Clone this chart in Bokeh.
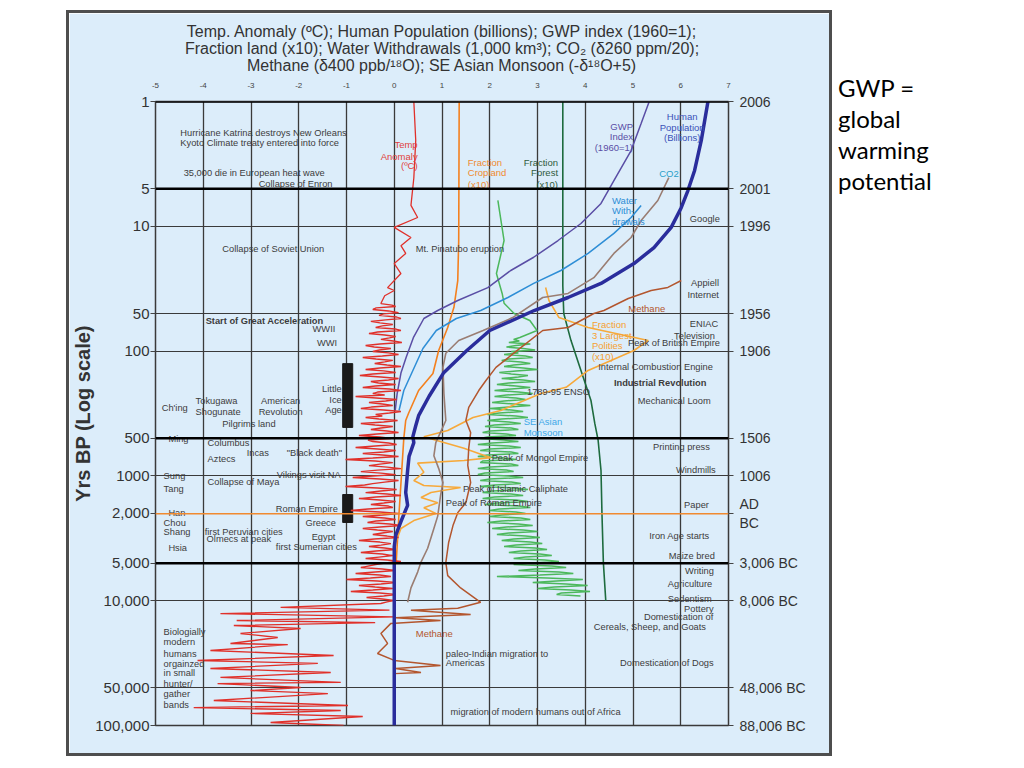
from bokeh.plotting import figure
from bokeh.models import (Range1d, FixedTicker, LogAxis, Title, Span, ColumnDataSource,
                          Div, Spacer)
from bokeh.layouts import row, column
from bokeh.core.properties import value
from bokeh.embed import file_html
from bokeh.resources import INLINE

FONT = "Liberation Sans"
BG = "#dcedfa"
EDGE = "#4e4e4e"

# ---------------- data (years before present, x in anomaly units) ----------------
TEMP_YEARS = [1, 2.05, 4.1, 6.8, 8.5, 10.2, 12.3, 14.3, 16.5, 19.9, 23.9, 31, 32.7, 36,
              41.6, 42.8, 43.9, 45.1, 46.4, 47.7, 49.1, 50.4, 51.8, 53.3, 54.8, 56.3, 57.9,
              59.5, 61.2, 62.9, 64.7, 66.5, 68.4, 70.3, 72.3, 74.3, 76.4, 78.5, 80.7, 83.0,
              85.3, 87.7, 90.2, 92.7, 95.3, 98.0, 100.7, 103.5, 106.5, 109.5, 112.5, 115.7,
              118.9, 122.2, 125.7, 129.2, 132.9, 136.6, 140.4, 144.3, 148.4, 152.6, 156.9,
              161.3, 165.8, 170.4, 175.2, 180.1, 185.2, 190.4, 195.7, 201.2, 206.9, 212.7,
              218.7, 224.8, 231.1, 237.6, 244.3, 251.1, 258.2, 265.4, 272.9, 280.6, 288.4,
              296.5, 304.8, 313.4, 322.2, 331.2, 340.5, 350.0, 359.9, 370.0, 380.4, 391.0,
              402.0, 413.3, 424.9, 436.8, 449.1, 461.7, 474.7, 488.0, 501.7, 515.8, 530.3,
              545.1, 560.4, 576.1, 592.3, 608.9, 626.1, 643.6, 661.7, 680.2, 699.4, 719.0,
              739.2, 759.9, 781.3, 803.2, 825.8, 849.0, 872.8, 897.3, 922.5, 948.4, 975.0,
              1002, 1030, 1059, 1089, 1120, 1151, 1183, 1216, 1250, 1285, 1321, 1359, 1397,
              1436, 1476, 1518, 1560, 1604, 1649, 1695, 1743, 1792, 1842, 1894, 1947, 2001,
              2057, 2115, 2174, 2236, 2298, 2363, 2429, 2497, 2567, 2640, 2714, 2790, 2868,
              2949, 3032, 3117, 3204, 3294, 3387, 3482, 3580, 3680, 3783, 3889, 3998, 4111,
              4226, 4345, 4467, 4592, 4721, 4853, 4989, 5129, 5273, 5421, 5573, 5729, 5890,
              6056, 6226, 6400, 6580, 6765, 6955, 7150, 7351, 7556, 7769, 7986, 8210, 8441,
              8678, 8921, 9171, 9428, 9693, 9964, 10240, 10530,
              11330, 11900, 12670, 13500, 14410, 15000, 15800, 16700, 18320, 19720, 22030,
              22500, 25060, 27480, 30140, 31840, 34930, 37610, 41220, 45200, 46100, 49600,
              52440, 55460, 63040, 69150, 71800, 75810, 80100, 84700, 94600, 100000]
TEMP_ANOM = [0.41, 0.45, 0.41, 0.35, 0.49, 0.0, 0.35, 0.14, 0.24, 0.0, 0.14, -0.14, 0.0, -0.2,
             -0.28, -0.05, 0.03, -0.38, -0.45, -0.12, 0.09, -0.22, -0.32, 0.05, 0.14, -0.18,
             -0.49, -0.30, -0.03, -0.25, -0.39, 0.02, 0.14, -0.35, -0.53, -0.20, 0.03, -0.10,
             -0.28, -0.02, 0.16, -0.30, -0.60, -0.42, -0.07, -0.31, -0.45, -0.12, 0.09, -0.25,
             -0.66, -0.38, -0.03, -0.20, -0.41, -0.15, 0.14, -0.30, -0.60, -0.22, 0.03, -0.45,
             -0.72, -0.28, 0.09, -0.12, -0.49, -0.33, 0.03, -0.40, -0.66, -0.10, 0.14, -0.35,
             -0.45, -0.20, -0.81, -0.38, 0.05, -0.18, -0.53, -0.25, -0.03, -0.48, -0.70,
             -0.22, 0.14, -0.10, -0.39, -0.25, -0.60, -0.32, 0.07, -0.22, -0.70, -0.40,
             -0.03, -0.28, -0.49, -0.15, 0.09, -0.36, -0.74, -0.30, -0.07, -0.55, -0.45,
             -0.12, 0.05, -0.40, -0.81, -0.35, 0.03, -0.22, -0.66, -0.25, 0.09, -0.45,
             -1.02, -0.40, -0.03, -0.30, -0.53, -0.15, 0.14, -0.35, -0.70, -0.28, 0.03,
             -0.45, -0.87, -0.30, 0.09, -0.20, -0.45, -0.62, -1.02, -0.35, 0.05, -0.28, -0.60,
             -0.15, 0.14, -0.38, -0.74, -0.30, 0.03, -0.22, -0.49, -0.12, -0.03, -0.55, -0.91,
             -0.30, 0.09, -0.25, -0.66, -0.20, 0.03, -0.38, -0.56, -0.10, 0.14, -0.30, -0.66,
             -0.35, -0.03, -0.25, -0.45, -0.15, 0.09, -0.42, -0.74, -0.30, -0.07, -0.28,
             -0.53, -0.20, 0.03, -0.38, -0.70, -0.25, -0.03, -0.32, -0.60, -0.15, 0.14, -0.20,
             -0.39, -0.55, -0.70, -0.25, 0.03, -0.40, -0.81, -0.30, -0.07, -0.50, -1.00,
             -0.35, 0.03, -0.28, -0.74, -0.40, -0.03, -0.45, -0.91, -0.30, 0.03, -0.22,
             -0.58, -0.25, -0.01, -0.15, -0.28,
             -2.38, -0.1, -3.64, 0.0, -3.3, -0.4, -3.36, -1.96, -3.22, -2.44, -3.43,
             -2.23, -3.85, -1.27, -4.12, -1.60, -3.85, -1.33, -3.64, -1.12, -3.70, -1.96,
             -3.01, -1.39, -3.78, -0.97, -4.20, -1.12, -3.01, -0.66, -2.59, -1.06]

POP_YEARS = [1, 2.05, 3.57, 5.17, 7.1, 10.2, 14.8, 19.9, 28.7, 37.2, 47.3, 68.4, 98.9,
             150, 230, 329, 396, 485, 541, 698, 905, 1360, 1720, 2320, 3000, 3700, 100000]
POP_BILLIONS = [6.57, 6.43, 6.29, 6.15, 6.01, 5.80, 5.44, 5.02, 4.33, 3.64, 2.93, 2.0, 1.52,
                1.03, 0.73, 0.51, 0.45, 0.39, 0.41, 0.31, 0.28, 0.24, 0.28, 0.14, 0.03, 0.0, 0.0]

GWP_YEARS = [1, 1.5, 2.47, 4.3, 6.56, 9.5, 13, 17.7, 22.6, 31, 39.3, 47.3, 54.8, 78, 112, 150, 220, 300]
GWP_INDEX = [5.34, 5.17, 4.96, 4.60, 4.33, 3.91, 3.43, 2.92, 2.44, 1.96, 1.33, 0.91, 0.62, 0.40,
             0.25, 0.14, 0.06, 0.02]

WATER_YEARS = [6.8, 8.5, 11.4, 16.5, 22.6, 28.7, 37.2, 47.3, 54.8, 68.4, 95.3, 143, 207, 299]
WATER_KM3 = [5.17, 4.96, 4.60, 4.06, 3.49, 2.92, 2.38, 1.81, 1.30, 0.88, 0.60, 0.39, 0.20, 0.10]

CO2_YEARS = [4.07, 6.21, 8.99, 12.3, 16.5, 25.8, 34.5, 37.2, 53.9, 68.4, 82.2, 104, 135, 219,
             360, 541, 690, 870, 1130, 1436, 2100, 2640, 3800, 4900, 5900, 7900, 10300]
CO2_INDEX = [5.75, 5.52, 5.17, 4.96, 4.60, 4.18, 3.64, 3.11, 2.48, 1.86, 1.35, 1.08, 1.02, 1.04,
             1.08, 0.87, 0.83, 0.93, 1.02, 0.97, 0.91, 0.83, 0.70, 0.56, 0.49, 0.35, 0.28]

METH_YEARS = [27.2, 30.9, 32.7, 37.9, 47.3, 50, 64.7, 68.4, 93.7, 135, 172, 207, 282, 360, 450,
              600, 825, 1130, 1640, 1970, 2500, 3400, 4960, 6300, 7900, 10300, 11500, 11900,
              12900, 13700, 14400, 15200, 18300, 22000, 26500, 30100, 33000, 34900, 37600, 38400]
METH_INDEX = [6.01, 5.73, 5.38, 4.90, 4.39, 4.18, 3.64, 3.11, 2.65, 2.13, 1.92, 1.77, 1.56, 1.50,
              1.60, 1.56, 1.54, 1.60, 1.50, 1.33, 1.23, 1.14, 1.08, 1.12, 1.39, 1.81, 1.33, 0.35,
              1.60, 0.03, 0.97, -0.07, -0.28, -0.14, -0.35, 0.0, 0.97, 0.03, 0.56, 0.0]

CROP_YEARS = [1, 13, 27.2, 44.6, 64.7, 98.9, 151, 207, 315, 360, 500, 1000, 2000, 5000]
CROP_FRAC = [1.36, 1.35, 1.33, 1.25, 1.12, 0.93, 0.81, 0.51, 0.30, 0.24, 0.20, 0.15, 0.10, 0.04]

FOREST_YEARS = [1, 30, 50, 82, 143, 249, 380, 520, 905, 2000, 5000, 10000]
FOREST_FRAC = [3.53, 3.53, 3.55, 3.70, 3.91, 4.12, 4.20, 4.27, 4.33, 4.35, 4.38, 4.43]

POLITY_YEARS = [30.9, 39.3, 53.9, 64.7, 82.2, 98.9, 143, 195, 219, 299, 340, 433, 485, 600, 714,
                753, 790, 935, 1090, 1195, 1240, 1360, 1490, 1640, 1800, 2000, 2280, 2640, 3430, 4360]
POLITY_FRAC = [3.17, 3.24, 3.45, 4.06, 5.32, 5.02, 4.06, 3.60, 3.07, 2.23, 1.65, 1.12, 0.62, 1.46,
               2.02, 1.46, 0.49, 0.62, 0.41, 0.62, 1.39, 0.77, 0.56, 0.91, 0.62, 0.87, 0.41, 0.14,
               0.03, 0.0]

MONSOON_YEARS = [6.2, 13, 23.9, 34.5, 41.3, 50, 56.9, 68.4, 77.8,
                 80.7, 83.0, 85.3, 87.7, 90.2, 92.7, 95.3, 98.0, 100.7, 103.5, 106.5, 109.5,
                 112.5, 115.7, 118.9, 122.2, 125.7, 129.2, 132.9, 136.6, 140.4, 144.3, 148.4,
                 152.6, 156.9, 161.3, 165.8, 170.4, 175.2, 180.1, 185.2, 190.4, 195.7, 201.2,
                 206.9, 212.7, 218.7, 224.8, 231.1, 237.6, 244.3, 251.1, 258.2, 265.4, 272.9,
                 280.6, 288.4, 296.5, 304.8, 313.4, 322.2, 331.2, 340.5, 350.0, 359.9, 370.0,
                 380.4, 391.0, 402.0, 413.3, 424.9, 436.8, 449.1, 461.7, 474.7, 488.0, 501.7,
                 515.8, 530.3, 545.1, 560.4, 576.1, 592.3, 608.9, 626.1, 643.6, 661.7, 680.2,
                 699.4, 719.0, 739.2, 759.9, 781.3, 803.2, 825.8, 849.0, 872.8, 897.3, 922.5,
                 948.4, 975.0, 1002, 1030, 1059, 1089, 1120, 1151, 1183, 1216, 1250, 1285,
                 1321, 1359, 1397, 1436, 1476, 1518, 1560, 1604, 1649, 1695, 1743, 1792, 1842,
                 1894, 1947, 2001, 2057, 2115, 2174, 2236, 2298, 2363, 2429, 2497, 2567, 2640,
                 2714, 2790, 2868, 2949, 3032, 3117, 3204, 3294, 3387, 3482, 3580, 3680, 3783,
                 3889, 3998, 4111, 4226, 4345, 4467, 4592, 4721, 4853, 4989, 5129, 5273, 5421,
                 5573, 5729, 5890, 6056, 6226, 6400, 6580, 6765, 6955, 7150, 7351, 7556, 7769,
                 7986, 8210, 8441, 8678, 8921, 9171]
MONSOON_D18O = [2.17, 2.30, 2.14, 2.26, 2.30, 2.51, 2.84, 2.99, 2.63,
                2.50, 2.62, 2.40, 2.85, 2.55, 2.35, 2.70, 2.95, 2.45, 2.60, 2.30, 2.75,
                2.90, 2.40, 2.25, 2.65, 2.85, 2.50, 2.30, 2.70, 3.00, 2.55, 2.20,
                2.45, 2.80, 2.60, 2.25, 2.70, 2.95, 2.40, 2.15, 2.55, 2.85, 2.45,
                2.10, 2.60, 2.90, 2.35, 2.10, 2.55, 2.75, 2.30, 2.05, 2.50, 2.85,
                2.40, 2.00, 2.45, 2.70, 2.20, 1.95, 2.55, 2.80, 2.25, 1.95, 2.40,
                2.65, 2.10, 1.90, 2.45, 2.60, 2.00, 1.85, 2.35, 2.55, 1.95, 1.80,
                2.30, 2.60, 2.05, 1.75, 2.40, 2.65, 2.00, 1.80, 2.45, 2.60, 1.95,
                1.75, 2.30, 2.55, 1.85, 1.80, 2.45, 2.60, 2.00, 1.75, 2.35, 2.50,
                1.90, 1.75, 2.40, 2.70, 2.00, 1.80, 2.45, 2.65, 2.10, 1.80, 2.50, 2.80,
                2.05, 1.85, 2.45, 2.70, 2.10, 1.85, 2.55, 2.80, 2.15, 1.90, 2.60, 2.85, 2.20,
                2.00, 2.55, 2.75, 2.25, 2.00, 2.65, 2.85, 2.25, 1.95, 2.60, 2.90, 2.35, 2.05,
                2.70, 3.00, 2.40, 2.15, 2.75, 3.05, 2.50, 2.25, 2.85, 3.10, 2.55, 2.30, 2.95,
                3.20, 2.65, 2.40, 3.05, 3.30, 2.75, 2.50, 3.15, 3.45, 2.85, 2.50, 3.30, 3.60,
                2.95, 2.60, 3.45, 3.75, 3.05, 2.15, 3.20, 3.95, 3.40, 2.90, 3.60, 4.05, 3.35,
                3.00, 3.70, 4.10, 3.50, 3.40, 3.90]

# time bands drawn as black bars (Little Ice Age, Roman warm period)
BAR_TOP = [126, 1410]
BAR_BOTTOM = [409, 2361]

LEFT_TICKS = [1, 5, 10, 50, 100, 500, 1000, 2000, 5000, 10000, 50000, 100000]
LEFT_LABELS = ["1", "5", "10", "50", "100", "500", "1000", "2,000", "5,000", "10,000",
               "50,000", "100,000"]
RIGHT_TICKS = [1, 5, 10, 50, 100, 500, 1000, 2000, 5000, 10000, 50000, 100000]
RIGHT_LABELS = ["2006", "2001", "1996", "1956", "1906", "1506", "1006", "AD\nBC", "3,006 BC",
                "8,006 BC", "48,006 BC", "88,006 BC"]
TOP_TICKS = list(range(-5, 8))
TOP_LABELS = ["-5", "-4", "-3", "-2", "-1", "0", "1", "2", "3", "4", "5", "6", "7"]

TITLE_LINES = ["Temp. Anomaly (ºC); Human Population (billions); GWP index (1960=1);",
               "Fraction land (x10); Water Withdrawals (1,000 km³); CO₂ (δ260 ppm/20);",
               "Methane (δ400 ppb/¹⁸O); SE Asian Monsoon (-δ¹⁸O+5)"]
SIDE_NOTE = ["GWP =", "global", "warming", "potential"]

# historical events: text, x position, years BP
EVENTS = [
    ("Hurricane Katrina destroys New Orleans", -4.48, 1.80),
    ("Kyoto Climate treaty entered into force", -4.48, 2.17),
    ("35,000 die in European heat wave", -4.41, 3.71),
    ("Collapse of Enron", -2.84, 4.54),
    ("Collapse of Soviet Union", -3.60, 15.3),
    ("Mt. Pinatubo eruption", 0.45, 15.1),
    ("Google", 6.19, 8.82),
    ("ENIAC", 6.19, 61.2),
    ("Television", 5.86, 75.0),
    ("Internal Combustion Engine", 4.27, 135.3),
    ("Mechanical Loom", 5.10, 249),
    ("1789-95 ENSO", 2.78, 214.6),
    ("Printing press", 5.42, 581.5),
    ("Peak of Mongol Empire", 2.04, 712.3),
    ("Windmills", 5.90, 888.7),
    ("WWII", -1.71, 67.1),
    ("WWI", -1.62, 86.9),
    ("Ch'ing", -4.87, 283.1),
    ("Tokugawa", -4.16, 253.4),
    ("Shogunate", -4.16, 304.8),
    ("Pilgrims land", -3.60, 387.3),
    ("Ming", -4.73, 501.7),
    ("Columbus", -3.91, 540.2),
    ("Incas", -3.09, 649.4),
    ("\"Black death\"", -2.25, 649.4),
    ("Aztecs", -3.91, 725.6),
    ("Sung", -4.83, 992.7),
    ("Vikings visit NA", -2.46, 975.0),
    ("Collapse of Maya", -3.91, 1129),
    ("Tang", -4.83, 1262),
    ("Roman Empire", -2.48, 1825),
    ("Han", -4.73, 2001),
    ("Chou", -4.83, 2363),
    ("Shang", -4.83, 2841),
    ("Greece", -1.86, 2363),
    ("first Peruvian cities", -3.97, 2841),
    ("Olmecs at peak", -3.93, 3233),
    ("Egypt", -1.73, 3059),
    ("first Sumerian cities", -2.48, 3680),
    ("Hsia", -4.73, 3817),
    ("Peak of Islamic Caliphate", 1.44, 1262),
    ("Peak of Roman Empire", 1.08, 1664),
    ("Paper", 6.07, 1695),
    ("Iron Age starts", 5.34, 3004),
    ("Maize bred", 5.75, 4345),
    ("Writing", 6.09, 5834),
    ("Agriculture", 5.73, 7282),
    ("Sedentism", 5.73, 9603),
    ("Pottery", 6.07, 11550),
    ("Domestication of", 5.23, 13630),
    ("Cereals, Sheep, and Goats", 4.18, 16100),
    ("paleo-Indian migration to", 1.08, 26490),
    ("Americas", 1.08, 31280),
    ("Domestication of Dogs", 4.73, 31280),
    ("migration of modern humans out of Africa", 1.18, 78660),
    ("Biologially", -4.83, 17980),
    ("modern", -4.83, 21620),
    ("humans", -4.83, 26490),
    ("orgainzed", -4.83, 31870),
    ("in small", -4.83, 38310),
    ("hunter/", -4.83, 46080),
    ("gather", -4.83, 55420),
    ("bands", -4.83, 67880),
]
BOLD_EVENTS = [("Start of Great Acceleration", -3.95, 56.9),
               ("Industrial Revolution", 4.60, 181.8)]
RIGHT_EVENTS = [("Little", -1.10, 199.4), ("Ice", -1.10, 244.3), ("Age", -1.10, 293.8),
                ("Appiell", 6.80, 28.7), ("Internet", 6.80, 35.2),
                ("Peak of British Empire", 6.82, 86.9)]
CENTER_EVENTS = [("American", -2.38, 253.4), ("Revolution", -2.38, 304.8)]

# series captions: text, x, years, colour, alignment
CAPTIONS = [
    ("Temp", 0.49, 2.21, "#e0403a", "right"), ("Anomaly", 0.49, 2.76, "#e0403a", "right"),
    ("(ºC)", 0.49, 3.26, "#e0403a", "right"),
    ("Fraction", 1.54, 3.08, "#f08a30", "left"), ("Cropland", 1.54, 3.71, "#f08a30", "left"),
    ("(x10)", 1.54, 4.63, "#f08a30", "left"),
    ("Fraction", 3.43, 3.08, "#2f5a3c", "right"), ("Forest", 3.43, 3.71, "#2f5a3c", "right"),
    ("(x10)", 3.43, 4.63, "#2f5a3c", "right"),
    ("GWP", 5.00, 1.59, "#5a4ea5", "right"), ("Index", 5.00, 1.91, "#5a4ea5", "right"),
    ("(1960=1)", 5.00, 2.34, "#5a4ea5", "right"),
    ("Human", 6.03, 1.32, "#3a50b8", "center"), ("Population", 6.03, 1.62, "#3a50b8", "center"),
    ("(Billions)", 6.03, 1.94, "#3a50b8", "center"),
    ("CO2", 5.55, 3.78, "#2aa0c8", "left"),
    ("Water", 4.56, 6.21, "#2e8ed6", "left"), ("With-", 4.56, 7.47, "#2e8ed6", "left"),
    ("drawals", 4.56, 9.15, "#2e8ed6", "left"),
    ("Methane", 4.90, 45.6, "#b3562e", "left"), ("Methane", 0.45, 18310, "#b3562e", "left"),
    ("Fraction", 4.14, 61.2, "#f6a030", "left"), ("3 Largest", 4.14, 75.0, "#f6a030", "left"),
    ("Polities", 4.14, 90.2, "#f6a030", "left"), ("(x10)", 4.14, 110.5, "#f6a030", "left"),
    ("SE Asian", 2.71, 366.5, "#40a8e8", "left"), ("Monsoon", 2.71, 449.1, "#40a8e8", "left"),
]

# ---------------- figure (inside a framed light-blue panel) ----------------
p = figure(width=760, height=740, x_range=Range1d(-5, 7), y_range=Range1d(100000, 1),
           y_axis_type="log", x_axis_location="above",
           output_backend="svg", toolbar_location=None,
           min_border_left=86, min_border_right=101, min_border_top=88, min_border_bottom=28,
           background_fill_color=BG, border_fill_color=BG,
           outline_line_color="#3a3a3a", outline_line_width=1.5)
p.title.text = ""
p.title.text_font_size = "1px"
p.title.standoff = 0

# grids
p.xgrid.ticker = FixedTicker(ticks=list(range(-4, 7)))
p.xgrid.grid_line_color = "#3a3a3a"
p.xgrid.grid_line_width = 1.3
p.ygrid.ticker = FixedTicker(ticks=[10, 50, 100, 1000, 10000, 50000])
p.ygrid.grid_line_color = "#3a3a3a"
p.ygrid.grid_line_width = 1.2
for loc in [5, 500, 5000]:
    p.add_layout(Span(location=loc, dimension="width", line_color="black", line_width=2.5))
p.add_layout(Span(location=1, dimension="width", line_color="black", line_width=2.5))
p.add_layout(Span(location=2006, dimension="width", line_color="#f08a30", line_width=1.5))

# axes
top = p.xaxis[0]
top.ticker = FixedTicker(ticks=TOP_TICKS)
top.major_label_overrides = dict(zip(TOP_TICKS, TOP_LABELS))
top.major_label_text_font_size = "8px"
top.major_label_text_color = "#444444"
top.major_label_text_font = FONT
top.major_tick_out = 0
top.major_tick_in = 0
top.minor_tick_out = 0
top.axis_line_color = None
top.major_label_standoff = 14

left = p.yaxis[0]
left.ticker = FixedTicker(ticks=LEFT_TICKS)
left.major_label_overrides = dict(zip(LEFT_TICKS, LEFT_LABELS))
left.major_label_text_font = FONT
left.major_label_text_font_size = "15px"
left.major_label_text_color = "#333333"
left.major_tick_out = 5
left.major_tick_in = 0
left.minor_tick_out = 0
left.minor_tick_in = 0
left.major_tick_line_color = "#444444"
left.axis_line_color = None
left.major_label_standoff = 1
left.axis_label = "Yrs BP (Log scale)"
left.axis_label_text_font = FONT
left.axis_label_text_font_size = "20px"
left.axis_label_text_font_style = "bold"
left.axis_label_text_color = "#333333"
left.axis_label_standoff = -2

right = LogAxis(ticker=FixedTicker(ticks=RIGHT_TICKS),
                major_label_overrides=dict(zip(RIGHT_TICKS, RIGHT_LABELS)))
right.major_label_text_font = FONT
right.major_label_text_font_size = "14px"
right.major_label_text_color = "#333333"
right.major_tick_out = 5
right.major_tick_in = 0
right.minor_tick_out = 0
right.minor_tick_in = 0
right.major_tick_line_color = "#444444"
right.axis_line_color = None
right.major_label_standoff = 6
p.add_layout(right, "right")

# three-line heading, stacked outward from the top axis
for line, gap in [(TITLE_LINES[2], 11), (TITLE_LINES[1], -14), (TITLE_LINES[0], 9)]:
    p.add_layout(Title(text=line, align="center", text_font=FONT, text_font_size="16px",
                       text_font_style="normal", text_color="#333333", standoff=gap), "above")

# black period bars
p.quad(left=[-1.08, -1.08], right=[-0.87, -0.87], top=BAR_TOP, bottom=BAR_BOTTOM,
       fill_color="#1a1a1a", line_color="#1a1a1a")

# series
p.line(MONSOON_D18O, MONSOON_YEARS, line_color="#4cb85c", line_width=1.5)
p.line(FOREST_FRAC, FOREST_YEARS, line_color="#1e6b3e", line_width=1.6)
p.line(CROP_FRAC, CROP_YEARS, line_color="#f4801e", line_width=1.6)
p.line(POLITY_FRAC, POLITY_YEARS, line_color="#f7a93a", line_width=1.6)
p.line(METH_INDEX, METH_YEARS, line_color="#b3562e", line_width=1.5)
p.line(CO2_INDEX, CO2_YEARS, line_color="#9a7d72", line_width=1.6)
p.line(WATER_KM3, WATER_YEARS, line_color="#2e8ed6", line_width=1.5)
p.line(GWP_INDEX, GWP_YEARS, line_color="#5a4ea5", line_width=1.5)
p.line(TEMP_ANOM, TEMP_YEARS, line_color="#e0302a", line_width=1.3)
p.line(POP_BILLIONS, POP_YEARS, line_color="#2a2d9c", line_width=3.5)

# event labels
def add_text(items, align, style="normal", color="#3c3c3c"):
    src = ColumnDataSource(dict(t=[i[0] for i in items], x=[i[1] for i in items],
                                y=[i[2] for i in items]))
    p.text(x="x", y="y", text="t", source=src, text_align=align, text_baseline="middle",
           text_font=value(FONT), text_font_size="9.3px", text_font_style=style,
           text_color=color)

add_text(EVENTS, "left")
add_text(BOLD_EVENTS, "left", style="bold")
add_text(RIGHT_EVENTS, "right")
add_text(CENTER_EVENTS, "center")
for align in ["left", "right", "center"]:
    sel = [c for c in CAPTIONS if c[4] == align]
    src = ColumnDataSource(dict(t=[c[0] for c in sel], x=[c[1] for c in sel],
                                y=[c[2] for c in sel], c=[c[3] for c in sel]))
    p.text(x="x", y="y", text="t", source=src, text_align=align, text_baseline="middle",
           text_font=value(FONT), text_font_size="9.5px", text_color="c")

# side note to the right of the panel
note = Div(text="<br>".join(SIDE_NOTE), width=186, height=200,
           styles={"font-family": "Lato", "font-size": "24px", "line-height": "31px",
                   "color": "black", "padding-left": "1px", "padding-top": "67px"})

def edge(w, h):
    return Spacer(width=w, height=h, styles={"background-color": EDGE})

panel = column(edge(766, 3), row(edge(3, 740), p, edge(3, 740)), edge(766, 3))
layout = row(Spacer(width=66, height=756),
             column(Spacer(width=766, height=10), panel),
             note)

open("out.html", "w").write(file_html(layout, INLINE))
